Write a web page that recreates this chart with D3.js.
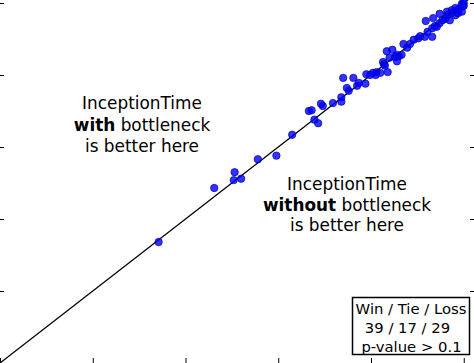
<!DOCTYPE html>
<html>
<head>
<meta charset="utf-8">
<script src="https://cdn.jsdelivr.net/npm/d3@7"></script>
<style>
  html, body { margin: 0; padding: 0; background: #fff; }
  svg { display: block; font-family: "DejaVu Sans", sans-serif; }
</style>
</head>
<body>
<svg id="chart" width="474" height="363"></svg>
<script>
// Accuracy of InceptionTime without bottleneck (x) vs with bottleneck (y)
const accWithout = [0.671,0.731,0.752,0.753,0.760,0.778,0.798,0.815,0.833,0.836,
  0.839,0.843,0.848,0.859,0.868,0.868,0.876,0.870,0.881,0.885,
  0.887,0.894,0.895,0.902,0.906,0.910,0.905,0.918,0.913,0.914,
  0.917,0.923,0.920,0.928,0.930,0.928,0.933,0.935,0.939,0.951,
  0.958,0.966,0.959,0.966,0.969,0.974,0.971,0.980,0.982,0.987,
  0.991,0.993,0.998,0.999,0.997,0.994,0.974,0.982,0.987,0.967,
  0.998,1.000,0.985,0.961,0.942,0.926,0.899,0.874,0.846,0.915,
  0.977,0.991,1.000,0.953,0.946];
const accWith = [0.668,0.743,0.754,0.765,0.756,0.783,0.788,0.817,0.850,0.851,
  0.838,0.833,0.857,0.861,0.863,0.869,0.878,0.896,0.896,0.885,
  0.889,0.888,0.901,0.903,0.904,0.903,0.900,0.904,0.918,0.915,
  0.933,0.935,0.924,0.919,0.926,0.928,0.928,0.943,0.938,0.951,
  0.953,0.953,0.975,0.965,0.968,0.972,0.967,0.978,0.983,0.986,
  0.983,0.990,0.999,0.997,0.994,0.986,0.985,0.988,0.990,0.979,
  0.988,1.000,0.976,0.960,0.943,0.925,0.900,0.882,0.860,0.913,
  0.976,0.993,0.996,0.954,0.949];
const tickValues = [0.5, 0.6, 0.7, 0.8, 0.9, 1.0];
const labelWith = ["InceptionTime", "with", " bottleneck", "is better here"];
const labelWithout = ["InceptionTime", "without", " bottleneck", "is better here"];
const statsLines = ["Win / Tie / Loss", "39 / 17 / 29", "p-value > 0.1"];

const W = 474, H = 363;
const svg = d3.select("#chart");

const x = d3.scaleLinear().domain([0.5, 1.0]).range([0, 463.75]);
const y = d3.scaleLinear().domain([0.5, 1.0]).range([363, 3]);

// diagonal
const dmin = 0.5, dmax = 1.02;
svg.append("line")
  .attr("x1", x(dmin)).attr("y1", y(dmin))
  .attr("x2", x(dmax)).attr("y2", y(dmax))
  .attr("stroke", "#000").attr("stroke-width", 1.3);

// points
const pts = accWithout.map((v, i) => [v, accWith[i]]);
svg.append("g").selectAll("circle").data(pts).join("circle")
  .attr("cx", d => x(d[0]))
  .attr("cy", d => y(d[1]))
  .attr("r", 3.7)
  .attr("fill", "#0000ff")
  .attr("fill-opacity", 0.8)
  .attr("stroke", "#0000b0")
  .attr("stroke-width", 0.7);

// ticks (inward, no labels)
function styleAxis(g) {
  g.select(".domain").remove();
  g.selectAll(".tick line").attr("stroke", "#000").attr("stroke-width", 1);
  g.selectAll(".tick text").remove();
}
svg.append("g").attr("transform", "translate(0,0)")
  .call(d3.axisRight(y).tickValues(tickValues).tickSize(4).tickFormat(""))
  .call(styleAxis);
svg.append("g").attr("transform", `translate(${W},0)`)
  .call(d3.axisLeft(y).tickValues(tickValues).tickSize(4).tickFormat(""))
  .call(styleAxis);
svg.append("g").attr("transform", `translate(0,${H})`)
  .call(d3.axisTop(x).tickValues(tickValues).tickSize(5).tickFormat(""))
  .call(styleAxis);

// annotations
function block(cx, cy, lines, lh) {
  const t = svg.append("g").attr("font-size", 16.9).attr("fill", "#000");
  t.append("text").attr("x", cx).attr("y", cy).attr("text-anchor", "middle")
    .attr("dominant-baseline", "central").text(lines[0]);
  const mid = t.append("text").attr("x", cx).attr("y", cy + lh).attr("text-anchor", "middle")
    .attr("dominant-baseline", "central").attr("xml:space", "preserve");
  mid.append("tspan").attr("font-weight", "bold").text(lines[1]);
  mid.append("tspan").text(lines[2]);
  t.append("text").attr("x", cx).attr("y", cy + 2 * lh).attr("text-anchor", "middle")
    .attr("dominant-baseline", "central").text(lines[3]);
}
block(142, 103, labelWith, 21.5);
block(347, 184, labelWithout, 20.5);

// stats box
svg.append("rect").attr("x", 352.5).attr("y", 297.5).attr("width", 117).attr("height", 57)
  .attr("fill", "#fff").attr("stroke", "#000").attr("stroke-width", 1.5);
const sx = [411, 407.5, 411.5];
statsLines.forEach((s, i) => {
  svg.append("text").attr("x", sx[i]).attr("y", 308 + i * 19)
    .attr("text-anchor", "middle").attr("dominant-baseline", "central")
    .attr("font-size", 14.8).text(s);
});
</script>
</body>
</html>
